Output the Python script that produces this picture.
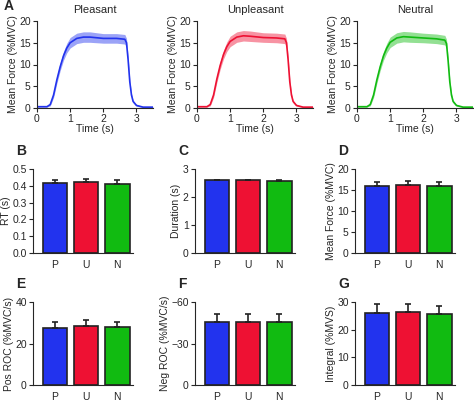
import numpy as np, pandas as pd, matplotlib
matplotlib.use("Agg")
import matplotlib.pyplot as plt, seaborn as sns

sns.set_style("ticks")
plt.rcParams['font.family'] = ['Liberation Sans', 'DejaVu Sans']
plt.rcParams['font.size'] = 7.5

conds = ["Pleasant", "Unpleasant", "Neutral"]
colors = ["#2233ee", "#ee1133", "#11bb11"]
time = [0, 0.3, 0.4, 0.5, 0.6, 0.7, 0.8, 0.9, 1.0, 1.2, 1.4, 1.6, 2.0, 2.4, 2.65, 2.7, 2.75, 2.8, 2.85, 2.9, 3.0, 3.2, 3.5]
force_p = [0.3, 0.3, 0.8, 3, 6.5, 9.5, 12, 13.8, 15.0, 16.0, 16.3, 16.3, 16.0, 16.0, 15.8, 15, 11, 6, 3, 1.5, 0.6, 0.2, 0.2]
force_u = [0.3, 0.3, 0.8, 3, 6.7, 9.8, 12.3, 14.1, 15.3, 16.3, 16.6, 16.5, 16.2, 16.1, 15.9, 15, 11, 6, 3, 1.5, 0.6, 0.2, 0.2]
force_n = [0.3, 0.3, 0.8, 3, 6.5, 9.5, 12, 13.8, 15.1, 16.1, 16.4, 16.3, 16.1, 15.9, 15.6, 14.8, 10.8, 6, 3, 1.5, 0.6, 0.2, 0.2]
sem = [0.1, 0.1, 0.3, 0.6, 0.8, 0.9, 1.0, 1.1, 1.2, 1.2, 1.2, 1.2, 1.1, 1.1, 1.1, 1.0, 0.8, 0.6, 0.4, 0.3, 0.2, 0.1, 0.1]

groups = ["P", "U", "N"]
rt = [0.415, 0.422, 0.412]; rt_err = [0.02, 0.02, 0.02]
dur = [2.6, 2.59, 2.57]; dur_err = [0.02, 0.02, 0.02]
mforce = [16.0, 16.1, 15.9]; mforce_err = [1.0, 1.0, 1.0]
pos = [27.5, 28.5, 27.8]; pos_err = [2.7, 2.8, 2.6]
neg = [-45.5, -45.5, -45.5]; neg_err = [5.5, 5.5, 5.5]
integ = [26.2, 26.4, 25.8]; integ_err = [3.0, 3.0, 2.8]

fig = plt.figure(figsize=(4.74, 4.04), dpi=100)
W, H = 474, 404
def ax_at(l, t, r, b):
    return fig.add_axes([l / W, 1 - b / H, (r - l) / W, (b - t) / H])

def style(ax):
    sns.despine(ax=ax)
    ax.tick_params(length=3, width=0.8, pad=1.5, labelsize=7.5)
    for s in ["left", "bottom"]:
        ax.spines[s].set_linewidth(0.8)

lefts = [37, 197, 357]
for i, (f, c, name) in enumerate(zip([force_p, force_u, force_n], colors, conds)):
    ax = ax_at(lefts[i], 21, lefts[i] + 116, 108)
    df = pd.DataFrame({"t": time, "f": f})
    lo = np.array(f) - np.array(sem); hi = np.array(f) + np.array(sem)
    ax.fill_between(time, lo, hi, color=c, alpha=0.45, lw=0)
    sns.lineplot(data=df, x="t", y="f", color=c, lw=1.2, ax=ax)
    ax.set_xlim(0, 3.5); ax.set_ylim(0, 20)
    ax.set_xticks([0, 1, 2, 3]); ax.set_yticks([0, 5, 10, 15, 20])
    ax.set_xlabel("Time (s)", labelpad=0); ax.set_ylabel("Mean Force (%MVC)", labelpad=1)
    ax.set_title(name, fontsize=8, pad=6)
    style(ax)
fig.text(4 / W, 1 - 6 / H, "A", fontsize=10, fontweight="bold", va="center")

panels = [
    ("B", rt, rt_err, "RT (s)", (0, 0.5), [0, .1, .2, .3, .4, .5], ["0.0", "0.1", "0.2", "0.3", "0.4", "0.5"], 33, 169, 253),
    ("C", dur, dur_err, "Duration (s)", (0, 3), [0, 1, 2, 3], None, 195, 169, 253),
    ("D", mforce, mforce_err, "Mean Force (%MVC)", (0, 20), [0, 5, 10, 15, 20], None, 355, 169, 253),
    ("E", pos, pos_err, "Pos ROC (%MVC/s)", (0, 40), [0, 20, 40], None, 33, 302, 385),
    ("F", neg, neg_err, "Neg ROC (%MVC/s)", (0, -60), [0, -30, -60], None, 195, 302, 385),
    ("G", integ, integ_err, "Integral (%MVS)", (0, 30), [0, 10, 20, 30], None, 355, 302, 385),
]
for lab, vals, errs, ylab, ylim, yt, ytl, l, t, b in panels:
    ax = ax_at(l, t, l + 100, b)
    df = pd.DataFrame({"g": groups, "v": vals})
    sns.barplot(data=df, x="g", y="v", hue="g", palette=colors, legend=False, saturation=1,
                edgecolor="#222222", linewidth=1.2, width=0.78, ax=ax)
    sign = -1 if ylim[1] < 0 else 1
    ax.errorbar(range(3), vals, yerr=[[0] * 3, errs] if sign > 0 else [errs, [0] * 3],
                fmt="none", ecolor="#222222", elinewidth=1.2, capsize=2, capthick=1.2)
    ax.set_ylim(*ylim); ax.set_yticks(yt)
    if ytl: ax.set_yticklabels(ytl)
    ax.set_xlim(-0.7, 2.5)
    ax.set_xlabel(""); ax.set_ylabel(ylab, labelpad=1)
    style(ax)
    ax.tick_params(axis="x", length=0, pad=5)
    fig.text((l - 17) / W, 1 - (t - 18) / H, lab, fontsize=10, fontweight="bold", va="center")

fig.savefig("out.png", dpi=100)
